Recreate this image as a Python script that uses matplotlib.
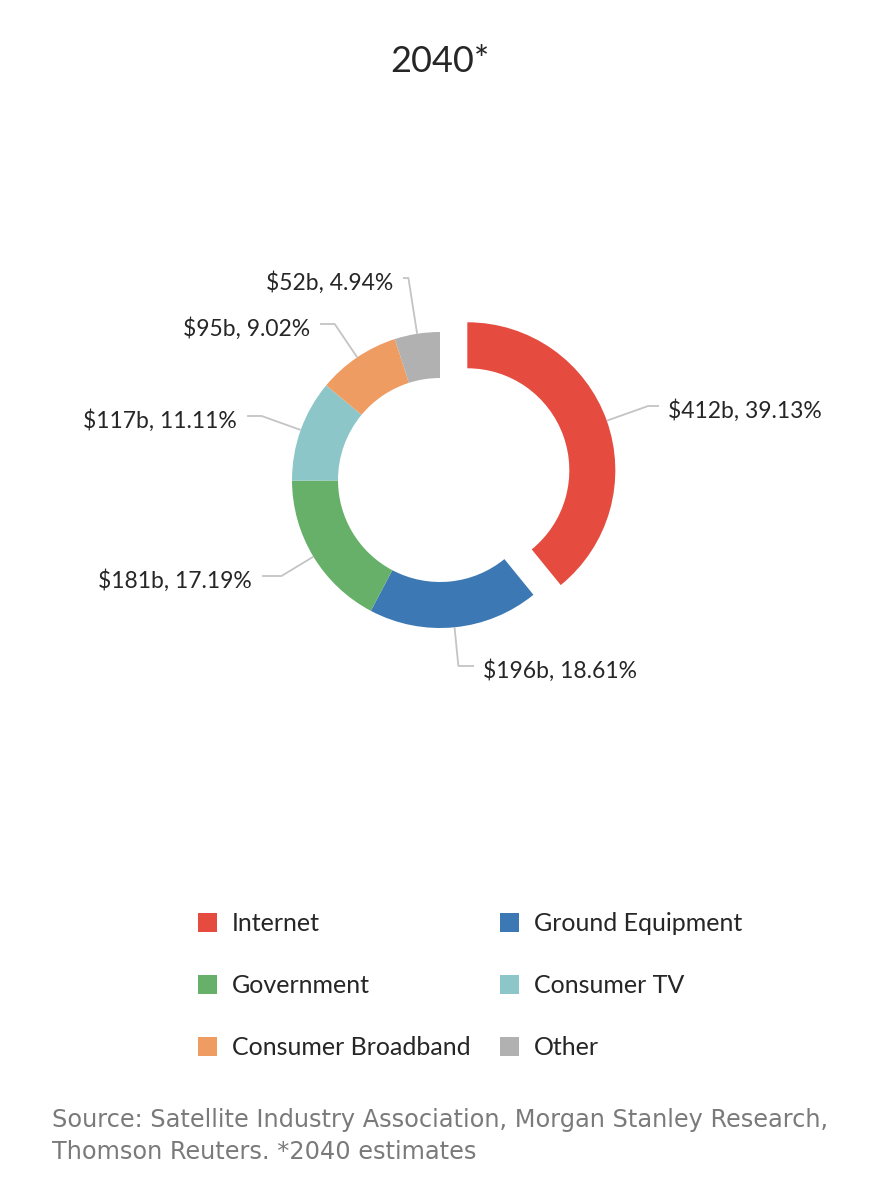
import numpy as np
import matplotlib
matplotlib.use("Agg")
import matplotlib.pyplot as plt
from matplotlib.patches import Patch

# ---------------- data ----------------
categories = ["Internet", "Ground Equipment", "Government", "Consumer TV",
              "Consumer Broadband", "Other"]
values_bn = [412, 196, 181, 117, 95, 52]
colors = ["#E54B3F", "#3C78B3", "#67B06A", "#8DC6C8", "#EE9C61", "#B1B1B1"]
title = "2040*"
source_lines = ["Source: Satellite Industry Association, Morgan Stanley Research,",
                "Thomson Reuters. *2040 estimates"]

# ---------------- layout ----------------
W, H = 881, 1200
def py(y):
    return H - y

FONT = ["Lato", "DejaVu Sans"]
TXT = "#262626"
fig = plt.figure(figsize=(W / 100, H / 100), dpi=100)
ax = fig.add_axes([0, 0, 1, 1])

center = (440, py(480))
R = 148
explode = [29, 0, 0, 0, 0, 0]
wedges, _ = ax.pie(values_bn, colors=colors, startangle=90, counterclock=False,
                   radius=R, center=center, explode=explode,
                   wedgeprops=dict(width=46, linewidth=0))
ax.set_xlim(0, W)
ax.set_ylim(0, H)
ax.set_aspect("equal")
ax.axis("off")

ax.text(440, py(62), title, ha="center", va="center", fontsize=26,
        family=FONT, color=TXT)

total = sum(values_bn)
label_line_y = [406, 666, 576, 416, 324, 278]
label_text_x = [668, 483, 252, 237, 310, 393]
for w, v, ly, tx in zip(wedges, values_bn, label_line_y, label_text_x):
    th = np.deg2rad((w.theta1 + w.theta2) / 2)
    cx, cy = w.center
    ax0, ay0 = cx + w.r * np.cos(th), cy + w.r * np.sin(th)
    ly_d = py(ly)
    t = (ly_d - ay0) / np.sin(th)
    ex, ey = ax0 + t * np.cos(th), ly_d
    right = np.cos(th) > 0
    endx = tx - 9 if right else tx + 10
    ax.plot([ax0, ex, endx], [ay0, ey, ey], color="#c4c4c4", lw=1.3,
            solid_capstyle="butt", zorder=1)
    ax.text(tx, py(ly + 5), f"${v}b, {v / total * 100:.2f}%",
            ha="left" if right else "right", va="center", fontsize=16.5,
            family=FONT, color=TXT)

# legend (row-major order in the picture -> column-major for matplotlib)
handles = [Patch(facecolor=c, edgecolor="none") for c in colors]
order = [0, 2, 4, 1, 3, 5]
leg = fig.legend([handles[i] for i in order], [categories[i] for i in order],
                 ncol=2, loc="upper left",
                 bbox_to_anchor=(198 / W, 1 - 912 / H), frameon=False,
                 borderpad=0, borderaxespad=0, handlelength=0.76,
                 handleheight=0.76, handletextpad=0.6, columnspacing=1.16,
                 labelspacing=1.56,
                 prop=dict(family=FONT, size=18))
for t in leg.get_texts():
    t.set_color(TXT)

ax.text(52, py(1120), source_lines[0], ha="left", va="center", fontsize=17.25,
        family=["DejaVu Sans"], color="#7a7a7a")
ax.text(52, py(1152), source_lines[1], ha="left", va="center", fontsize=17.25,
        family=["DejaVu Sans"], color="#7a7a7a")

fig.savefig("out.png", dpi=100)
